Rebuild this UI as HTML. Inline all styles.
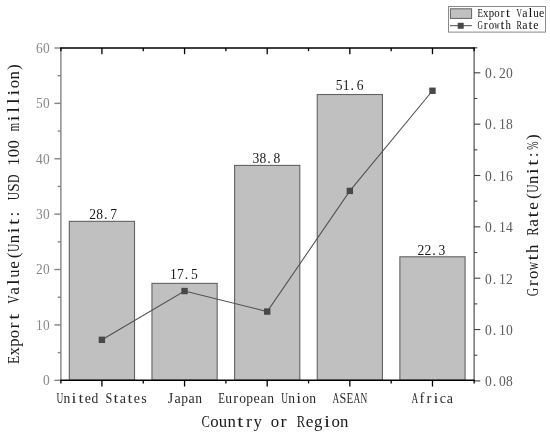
<!DOCTYPE html>
<html lang="en"><head><meta charset="utf-8"><title>Export Value and Growth Rate by Country or Region</title>
<style>html,body{margin:0;padding:0;background:#fff;}body{width:550px;height:435px;overflow:hidden;}svg{display:block;}
text{font-family:"Liberation Serif", "Noto Serif CJK SC", serif;}
.tk{font-size:14px;}.lg{font-size:11px;}.tt{font-size:17.33px;}
</style></head><body>
<svg width="550" height="435" viewBox="0 0 550 435">
<title>Export Value and Growth Rate by Country or Region</title>
<desc>Bar and line chart. Bars: Export Value (Unit: USD 100 million) for United States 28.7, Japan 17.5, European Union 38.8, ASEAN 51.6, Africa 22.3. Line: Growth Rate (Unit:%) by Country or Region.</desc>
<rect x="0" y="0" width="550" height="435" fill="#ffffff"/>
<rect x="69.32" y="221.35" width="65.20" height="158.95" fill="#c0c0c0" stroke="#626262" stroke-width="1.1"/>
<rect x="151.96" y="283.38" width="65.20" height="96.92" fill="#c0c0c0" stroke="#626262" stroke-width="1.1"/>
<rect x="234.60" y="165.41" width="65.20" height="214.89" fill="#c0c0c0" stroke="#626262" stroke-width="1.1"/>
<rect x="317.24" y="94.52" width="65.20" height="285.78" fill="#c0c0c0" stroke="#626262" stroke-width="1.1"/>
<rect x="399.88" y="256.80" width="65.20" height="123.50" fill="#c0c0c0" stroke="#626262" stroke-width="1.1"/>
<polyline points="101.92,339.82 184.56,291.04 267.20,311.58 349.84,190.91 432.48,90.77" fill="none" stroke="#505050" stroke-width="1.05"/>
<rect x="98.72" y="336.62" width="6.4" height="6.4" fill="#484848"/>
<rect x="181.36" y="287.84" width="6.4" height="6.4" fill="#484848"/>
<rect x="264.00" y="308.38" width="6.4" height="6.4" fill="#484848"/>
<rect x="346.64" y="187.71" width="6.4" height="6.4" fill="#484848"/>
<rect x="429.28" y="87.57" width="6.4" height="6.4" fill="#484848"/>
<g stroke="#848484" stroke-width="1.4" fill="none">
<line x1="60.90" y1="47.20" x2="60.90" y2="381.10"/>
<line x1="54.40" y1="380.30" x2="60.90" y2="380.30"/>
<line x1="57.70" y1="352.61" x2="60.90" y2="352.61"/>
<line x1="54.40" y1="324.92" x2="60.90" y2="324.92"/>
<line x1="57.70" y1="297.23" x2="60.90" y2="297.23"/>
<line x1="54.40" y1="269.53" x2="60.90" y2="269.53"/>
<line x1="57.70" y1="241.84" x2="60.90" y2="241.84"/>
<line x1="54.40" y1="214.15" x2="60.90" y2="214.15"/>
<line x1="57.70" y1="186.46" x2="60.90" y2="186.46"/>
<line x1="54.40" y1="158.77" x2="60.90" y2="158.77"/>
<line x1="57.70" y1="131.08" x2="60.90" y2="131.08"/>
<line x1="54.40" y1="103.38" x2="60.90" y2="103.38"/>
<line x1="57.70" y1="75.69" x2="60.90" y2="75.69"/>
<line x1="54.40" y1="48.00" x2="60.90" y2="48.00"/>
</g>
<g stroke="#404040" stroke-width="1.1" fill="none">
<line x1="474.10" y1="47.20" x2="474.10" y2="381.10"/>
<line x1="474.10" y1="380.90" x2="480.30" y2="380.90"/>
<line x1="474.10" y1="355.23" x2="477.30" y2="355.23"/>
<line x1="474.10" y1="329.55" x2="480.30" y2="329.55"/>
<line x1="474.10" y1="303.88" x2="477.30" y2="303.88"/>
<line x1="474.10" y1="278.20" x2="480.30" y2="278.20"/>
<line x1="474.10" y1="252.52" x2="477.30" y2="252.52"/>
<line x1="474.10" y1="226.85" x2="480.30" y2="226.85"/>
<line x1="474.10" y1="201.17" x2="477.30" y2="201.17"/>
<line x1="474.10" y1="175.50" x2="480.30" y2="175.50"/>
<line x1="474.10" y1="149.83" x2="477.30" y2="149.83"/>
<line x1="474.10" y1="124.15" x2="480.30" y2="124.15"/>
<line x1="474.10" y1="98.48" x2="477.30" y2="98.48"/>
<line x1="474.10" y1="72.80" x2="480.30" y2="72.80"/>
<line x1="474.10" y1="47.80" x2="477.30" y2="47.80"/>
</g>
<g stroke="#000000" stroke-width="1.6" fill="none">
<line x1="60.30" y1="48.00" x2="474.70" y2="48.00"/>
<line x1="60.30" y1="380.30" x2="474.70" y2="380.30"/>
<line x1="60.90" y1="48.00" x2="60.90" y2="51.20" stroke-width="1.3"/>
<line x1="60.90" y1="380.30" x2="60.90" y2="383.50" stroke-width="1.3"/>
<line x1="101.92" y1="48.00" x2="101.92" y2="54.20" stroke-width="1.3"/>
<line x1="101.92" y1="380.30" x2="101.92" y2="386.50" stroke-width="1.3"/>
<line x1="143.24" y1="48.00" x2="143.24" y2="51.20" stroke-width="1.3"/>
<line x1="143.24" y1="380.30" x2="143.24" y2="383.50" stroke-width="1.3"/>
<line x1="184.56" y1="48.00" x2="184.56" y2="54.20" stroke-width="1.3"/>
<line x1="184.56" y1="380.30" x2="184.56" y2="386.50" stroke-width="1.3"/>
<line x1="225.88" y1="48.00" x2="225.88" y2="51.20" stroke-width="1.3"/>
<line x1="225.88" y1="380.30" x2="225.88" y2="383.50" stroke-width="1.3"/>
<line x1="267.20" y1="48.00" x2="267.20" y2="54.20" stroke-width="1.3"/>
<line x1="267.20" y1="380.30" x2="267.20" y2="386.50" stroke-width="1.3"/>
<line x1="308.52" y1="48.00" x2="308.52" y2="51.20" stroke-width="1.3"/>
<line x1="308.52" y1="380.30" x2="308.52" y2="383.50" stroke-width="1.3"/>
<line x1="349.84" y1="48.00" x2="349.84" y2="54.20" stroke-width="1.3"/>
<line x1="349.84" y1="380.30" x2="349.84" y2="386.50" stroke-width="1.3"/>
<line x1="391.16" y1="48.00" x2="391.16" y2="51.20" stroke-width="1.3"/>
<line x1="391.16" y1="380.30" x2="391.16" y2="383.50" stroke-width="1.3"/>
<line x1="432.48" y1="48.00" x2="432.48" y2="54.20" stroke-width="1.3"/>
<line x1="432.48" y1="380.30" x2="432.48" y2="386.50" stroke-width="1.3"/>
<line x1="474.10" y1="48.00" x2="474.10" y2="51.20" stroke-width="1.3"/>
<line x1="474.10" y1="380.30" x2="474.10" y2="383.50" stroke-width="1.3"/>
</g>
<text class="tk" y="385.20" fill="#888888" xml:space="preserve"><tspan x="42.90" textLength="6.69" lengthAdjust="spacingAndGlyphs">0</tspan></text>
<text class="tk" y="329.82" fill="#888888" xml:space="preserve"><tspan x="36.00" textLength="6.69" lengthAdjust="spacingAndGlyphs">1</tspan><tspan x="42.90" textLength="6.69" lengthAdjust="spacingAndGlyphs">0</tspan></text>
<text class="tk" y="274.43" fill="#888888" xml:space="preserve"><tspan x="36.00" textLength="6.69" lengthAdjust="spacingAndGlyphs">2</tspan><tspan x="42.90" textLength="6.69" lengthAdjust="spacingAndGlyphs">0</tspan></text>
<text class="tk" y="219.05" fill="#888888" xml:space="preserve"><tspan x="36.00" textLength="6.69" lengthAdjust="spacingAndGlyphs">3</tspan><tspan x="42.90" textLength="6.69" lengthAdjust="spacingAndGlyphs">0</tspan></text>
<text class="tk" y="163.67" fill="#888888" xml:space="preserve"><tspan x="36.00" textLength="6.69" lengthAdjust="spacingAndGlyphs">4</tspan><tspan x="42.90" textLength="6.69" lengthAdjust="spacingAndGlyphs">0</tspan></text>
<text class="tk" y="108.28" fill="#888888" xml:space="preserve"><tspan x="36.00" textLength="6.69" lengthAdjust="spacingAndGlyphs">5</tspan><tspan x="42.90" textLength="6.69" lengthAdjust="spacingAndGlyphs">0</tspan></text>
<text class="tk" y="52.90" fill="#888888" xml:space="preserve"><tspan x="36.00" textLength="6.69" lengthAdjust="spacingAndGlyphs">6</tspan><tspan x="42.90" textLength="6.69" lengthAdjust="spacingAndGlyphs">0</tspan></text>
<text class="tk" y="386.20" fill="#5c5c5c" xml:space="preserve"><tspan x="485.11" textLength="6.79" lengthAdjust="spacingAndGlyphs">0</tspan><tspan x="492.84">.</tspan><tspan x="499.11" textLength="6.79" lengthAdjust="spacingAndGlyphs">0</tspan><tspan x="506.11" textLength="6.79" lengthAdjust="spacingAndGlyphs">8</tspan></text>
<text class="tk" y="334.85" fill="#5c5c5c" xml:space="preserve"><tspan x="485.11" textLength="6.79" lengthAdjust="spacingAndGlyphs">0</tspan><tspan x="492.84">.</tspan><tspan x="499.11" textLength="6.79" lengthAdjust="spacingAndGlyphs">1</tspan><tspan x="506.11" textLength="6.79" lengthAdjust="spacingAndGlyphs">0</tspan></text>
<text class="tk" y="283.50" fill="#5c5c5c" xml:space="preserve"><tspan x="485.11" textLength="6.79" lengthAdjust="spacingAndGlyphs">0</tspan><tspan x="492.84">.</tspan><tspan x="499.11" textLength="6.79" lengthAdjust="spacingAndGlyphs">1</tspan><tspan x="506.11" textLength="6.79" lengthAdjust="spacingAndGlyphs">2</tspan></text>
<text class="tk" y="232.15" fill="#5c5c5c" xml:space="preserve"><tspan x="485.11" textLength="6.79" lengthAdjust="spacingAndGlyphs">0</tspan><tspan x="492.84">.</tspan><tspan x="499.11" textLength="6.79" lengthAdjust="spacingAndGlyphs">1</tspan><tspan x="506.11" textLength="6.79" lengthAdjust="spacingAndGlyphs">4</tspan></text>
<text class="tk" y="180.80" fill="#5c5c5c" xml:space="preserve"><tspan x="485.11" textLength="6.79" lengthAdjust="spacingAndGlyphs">0</tspan><tspan x="492.84">.</tspan><tspan x="499.11" textLength="6.79" lengthAdjust="spacingAndGlyphs">1</tspan><tspan x="506.11" textLength="6.79" lengthAdjust="spacingAndGlyphs">6</tspan></text>
<text class="tk" y="129.45" fill="#5c5c5c" xml:space="preserve"><tspan x="485.11" textLength="6.79" lengthAdjust="spacingAndGlyphs">0</tspan><tspan x="492.84">.</tspan><tspan x="499.11" textLength="6.79" lengthAdjust="spacingAndGlyphs">1</tspan><tspan x="506.11" textLength="6.79" lengthAdjust="spacingAndGlyphs">8</tspan></text>
<text class="tk" y="78.10" fill="#5c5c5c" xml:space="preserve"><tspan x="485.11" textLength="6.79" lengthAdjust="spacingAndGlyphs">0</tspan><tspan x="492.84">.</tspan><tspan x="499.11" textLength="6.79" lengthAdjust="spacingAndGlyphs">2</tspan><tspan x="506.11" textLength="6.79" lengthAdjust="spacingAndGlyphs">0</tspan></text>
<text class="tk" y="402.60" fill="#2a2a2a" xml:space="preserve"><tspan x="56.52" textLength="6.79" lengthAdjust="spacingAndGlyphs">U</tspan><tspan x="63.52" textLength="6.79" lengthAdjust="spacingAndGlyphs">n</tspan><tspan x="71.47" textLength="4.90" lengthAdjust="spacingAndGlyphs">i</tspan><tspan x="78.47" textLength="4.90" lengthAdjust="spacingAndGlyphs">t</tspan><tspan x="84.81">e</tspan><tspan x="91.53" textLength="6.79" lengthAdjust="spacingAndGlyphs">d</tspan><tspan x="100.17"> </tspan><tspan x="105.53" textLength="6.79" lengthAdjust="spacingAndGlyphs">S</tspan><tspan x="113.47" textLength="4.90" lengthAdjust="spacingAndGlyphs">t</tspan><tspan x="119.81">a</tspan><tspan x="127.47" textLength="4.90" lengthAdjust="spacingAndGlyphs">t</tspan><tspan x="133.81 141.20">es</tspan></text>
<text class="tk" y="402.60" fill="#2a2a2a" xml:space="preserve"><tspan x="167.84 174.45">Ja</tspan><tspan x="181.16" textLength="6.79" lengthAdjust="spacingAndGlyphs">p</tspan><tspan x="188.45">a</tspan><tspan x="195.16" textLength="6.79" lengthAdjust="spacingAndGlyphs">n</tspan></text>
<text class="tk" y="402.60" fill="#2a2a2a" xml:space="preserve"><tspan x="218.30" textLength="6.79" lengthAdjust="spacingAndGlyphs">E</tspan><tspan x="225.30" textLength="6.79" lengthAdjust="spacingAndGlyphs">u</tspan><tspan x="233.25" textLength="4.90" lengthAdjust="spacingAndGlyphs">r</tspan><tspan x="239.30" textLength="6.79" lengthAdjust="spacingAndGlyphs">o</tspan><tspan x="246.30" textLength="6.79" lengthAdjust="spacingAndGlyphs">p</tspan><tspan x="253.59 260.59">ea</tspan><tspan x="267.31" textLength="6.79" lengthAdjust="spacingAndGlyphs">n</tspan><tspan x="275.95"> </tspan><tspan x="281.31" textLength="6.79" lengthAdjust="spacingAndGlyphs">U</tspan><tspan x="288.31" textLength="6.79" lengthAdjust="spacingAndGlyphs">n</tspan><tspan x="296.25" textLength="4.90" lengthAdjust="spacingAndGlyphs">i</tspan><tspan x="302.31" textLength="6.79" lengthAdjust="spacingAndGlyphs">o</tspan><tspan x="309.31" textLength="6.79" lengthAdjust="spacingAndGlyphs">n</tspan></text>
<text class="tk" y="402.60" fill="#2a2a2a" xml:space="preserve"><tspan x="332.45" textLength="6.79" lengthAdjust="spacingAndGlyphs">A</tspan><tspan x="339.45" textLength="6.79" lengthAdjust="spacingAndGlyphs">S</tspan><tspan x="346.45" textLength="6.79" lengthAdjust="spacingAndGlyphs">E</tspan><tspan x="353.45" textLength="6.79" lengthAdjust="spacingAndGlyphs">A</tspan><tspan x="360.45" textLength="6.79" lengthAdjust="spacingAndGlyphs">N</tspan></text>
<text class="tk" y="402.60" fill="#2a2a2a" xml:space="preserve"><tspan x="411.59" textLength="6.79" lengthAdjust="spacingAndGlyphs">A</tspan><tspan x="419.53" textLength="4.90" lengthAdjust="spacingAndGlyphs">f</tspan><tspan x="426.53" textLength="4.90" lengthAdjust="spacingAndGlyphs">r</tspan><tspan x="433.53" textLength="4.90" lengthAdjust="spacingAndGlyphs">i</tspan><tspan x="439.87 446.87">ca</tspan></text>
<text class="tk" y="219.10" fill="#1a1a1a" xml:space="preserve"><tspan x="89.33" textLength="6.79" lengthAdjust="spacingAndGlyphs">2</tspan><tspan x="96.33" textLength="6.79" lengthAdjust="spacingAndGlyphs">8</tspan><tspan x="104.06">.</tspan><tspan x="110.33" textLength="6.79" lengthAdjust="spacingAndGlyphs">7</tspan></text>
<text class="tk" y="279.00" fill="#1a1a1a" xml:space="preserve"><tspan x="169.97" textLength="6.79" lengthAdjust="spacingAndGlyphs">1</tspan><tspan x="176.97" textLength="6.79" lengthAdjust="spacingAndGlyphs">7</tspan><tspan x="184.70">.</tspan><tspan x="190.97" textLength="6.79" lengthAdjust="spacingAndGlyphs">5</tspan></text>
<text class="tk" y="162.60" fill="#1a1a1a" xml:space="preserve"><tspan x="252.60" textLength="6.79" lengthAdjust="spacingAndGlyphs">3</tspan><tspan x="259.61" textLength="6.79" lengthAdjust="spacingAndGlyphs">8</tspan><tspan x="267.34">.</tspan><tspan x="273.61" textLength="6.79" lengthAdjust="spacingAndGlyphs">8</tspan></text>
<text class="tk" y="90.00" fill="#1a1a1a" xml:space="preserve"><tspan x="335.75" textLength="6.79" lengthAdjust="spacingAndGlyphs">5</tspan><tspan x="342.75" textLength="6.79" lengthAdjust="spacingAndGlyphs">1</tspan><tspan x="350.48">.</tspan><tspan x="356.75" textLength="6.79" lengthAdjust="spacingAndGlyphs">6</tspan></text>
<text class="tk" y="254.50" fill="#1a1a1a" xml:space="preserve"><tspan x="417.59" textLength="6.79" lengthAdjust="spacingAndGlyphs">2</tspan><tspan x="424.59" textLength="6.79" lengthAdjust="spacingAndGlyphs">2</tspan><tspan x="432.32">.</tspan><tspan x="438.59" textLength="6.79" lengthAdjust="spacingAndGlyphs">3</tspan></text>
<text class="tt" y="427.20" fill="#1a1a1a" xml:space="preserve"><tspan x="201.52" textLength="8.40" lengthAdjust="spacingAndGlyphs">C</tspan><tspan x="210.18" textLength="8.40" lengthAdjust="spacingAndGlyphs">o</tspan><tspan x="218.84" textLength="8.40" lengthAdjust="spacingAndGlyphs">u</tspan><tspan x="227.50" textLength="8.40" lengthAdjust="spacingAndGlyphs">n</tspan><tspan x="237.33" textLength="6.06" lengthAdjust="spacingAndGlyphs">t</tspan><tspan x="245.99" textLength="6.06" lengthAdjust="spacingAndGlyphs">r</tspan><tspan x="253.48" textLength="8.40" lengthAdjust="spacingAndGlyphs">y</tspan><tspan x="264.17"> </tspan><tspan x="270.80" textLength="8.40" lengthAdjust="spacingAndGlyphs">o</tspan><tspan x="280.63" textLength="6.06" lengthAdjust="spacingAndGlyphs">r</tspan><tspan x="290.15"> </tspan><tspan x="296.78" textLength="8.40" lengthAdjust="spacingAndGlyphs">R</tspan><tspan x="305.79">e</tspan><tspan x="314.10" textLength="8.40" lengthAdjust="spacingAndGlyphs">g</tspan><tspan x="323.93" textLength="6.06" lengthAdjust="spacingAndGlyphs">i</tspan><tspan x="331.42" textLength="8.40" lengthAdjust="spacingAndGlyphs">o</tspan><tspan x="340.08" textLength="8.40" lengthAdjust="spacingAndGlyphs">n</tspan></text>
<text class="tt" y="0.00" fill="#1a1a1a" xml:space="preserve" transform="translate(18.90 213.30) rotate(-90)"><tspan x="-150.72" textLength="8.36" lengthAdjust="spacingAndGlyphs">E</tspan><tspan x="-142.10" textLength="8.36" lengthAdjust="spacingAndGlyphs">x</tspan><tspan x="-133.48" textLength="8.36" lengthAdjust="spacingAndGlyphs">p</tspan><tspan x="-124.86" textLength="8.36" lengthAdjust="spacingAndGlyphs">o</tspan><tspan x="-115.08" textLength="6.03" lengthAdjust="spacingAndGlyphs">r</tspan><tspan x="-106.46" textLength="6.03" lengthAdjust="spacingAndGlyphs">t</tspan><tspan x="-96.99"> </tspan><tspan x="-90.38" textLength="8.36" lengthAdjust="spacingAndGlyphs">V</tspan><tspan x="-81.43">a</tspan><tspan x="-71.98" textLength="6.03" lengthAdjust="spacingAndGlyphs">l</tspan><tspan x="-64.52" textLength="8.36" lengthAdjust="spacingAndGlyphs">u</tspan><tspan x="-55.57 -44.99">e(</tspan><tspan x="-38.66" textLength="8.36" lengthAdjust="spacingAndGlyphs">U</tspan><tspan x="-30.04" textLength="8.36" lengthAdjust="spacingAndGlyphs">n</tspan><tspan x="-20.26" textLength="6.03" lengthAdjust="spacingAndGlyphs">i</tspan><tspan x="-11.64" textLength="6.03" lengthAdjust="spacingAndGlyphs">t</tspan><tspan x="-3.28 6.45">: </tspan><tspan x="13.06" textLength="8.36" lengthAdjust="spacingAndGlyphs">U</tspan><tspan x="21.68" textLength="8.36" lengthAdjust="spacingAndGlyphs">S</tspan><tspan x="30.30" textLength="8.36" lengthAdjust="spacingAndGlyphs">D</tspan><tspan x="40.93"> </tspan><tspan x="47.54" textLength="8.36" lengthAdjust="spacingAndGlyphs">1</tspan><tspan x="56.16" textLength="8.36" lengthAdjust="spacingAndGlyphs">0</tspan><tspan x="64.78" textLength="8.36" lengthAdjust="spacingAndGlyphs">0</tspan><tspan x="75.41"> </tspan><tspan x="82.02" textLength="8.36" lengthAdjust="spacingAndGlyphs">m</tspan><tspan x="91.80" textLength="6.03" lengthAdjust="spacingAndGlyphs">i</tspan><tspan x="100.42" textLength="6.03" lengthAdjust="spacingAndGlyphs">l</tspan><tspan x="109.04" textLength="6.03" lengthAdjust="spacingAndGlyphs">l</tspan><tspan x="117.66" textLength="6.03" lengthAdjust="spacingAndGlyphs">i</tspan><tspan x="125.12" textLength="8.36" lengthAdjust="spacingAndGlyphs">o</tspan><tspan x="133.74" textLength="8.36" lengthAdjust="spacingAndGlyphs">n</tspan><tspan x="143.26">)</tspan></text>
<text class="tt" y="0.00" fill="#1a1a1a" xml:space="preserve" transform="translate(537.50 214.40) rotate(-90)"><tspan x="-81.76" textLength="8.36" lengthAdjust="spacingAndGlyphs">G</tspan><tspan x="-71.98" textLength="6.03" lengthAdjust="spacingAndGlyphs">r</tspan><tspan x="-64.52" textLength="8.36" lengthAdjust="spacingAndGlyphs">o</tspan><tspan x="-55.90" textLength="8.36" lengthAdjust="spacingAndGlyphs">w</tspan><tspan x="-46.12" textLength="6.03" lengthAdjust="spacingAndGlyphs">t</tspan><tspan x="-38.66" textLength="8.36" lengthAdjust="spacingAndGlyphs">h</tspan><tspan x="-28.03"> </tspan><tspan x="-21.42" textLength="8.36" lengthAdjust="spacingAndGlyphs">R</tspan><tspan x="-12.47">a</tspan><tspan x="-3.02" textLength="6.03" lengthAdjust="spacingAndGlyphs">t</tspan><tspan x="4.77 15.35">e(</tspan><tspan x="21.68" textLength="8.36" lengthAdjust="spacingAndGlyphs">U</tspan><tspan x="30.30" textLength="8.36" lengthAdjust="spacingAndGlyphs">n</tspan><tspan x="40.08" textLength="6.03" lengthAdjust="spacingAndGlyphs">i</tspan><tspan x="48.70" textLength="6.03" lengthAdjust="spacingAndGlyphs">t</tspan><tspan x="57.06">:</tspan><tspan x="64.78" textLength="8.36" lengthAdjust="spacingAndGlyphs">%</tspan><tspan x="74.30">)</tspan></text>
<rect x="448.5" y="6.5" width="97" height="25.6" fill="#ffffff" stroke="#8a8a8a" stroke-width="1"/>
<rect x="450.4" y="8.8" width="21.2" height="9.6" fill="#c0c0c0" stroke="#626262" stroke-width="1"/>
<line x1="450" y1="25.7" x2="471.8" y2="25.7" stroke="#4a4a4a" stroke-width="1"/>
<rect x="457.7" y="22.8" width="6" height="6" fill="#484848"/>
<text class="lg" y="17.40" fill="#111111" xml:space="preserve" style="font-size:11.8px"><tspan x="477.48" textLength="5.41" lengthAdjust="spacingAndGlyphs">E</tspan><tspan x="483.06" textLength="5.41" lengthAdjust="spacingAndGlyphs">x</tspan><tspan x="488.64" textLength="5.41" lengthAdjust="spacingAndGlyphs">p</tspan><tspan x="494.22" textLength="5.41" lengthAdjust="spacingAndGlyphs">o</tspan><tspan x="500.55">r</tspan><tspan x="506.14" textLength="3.91" lengthAdjust="spacingAndGlyphs">t</tspan><tspan x="512.20"> </tspan><tspan x="516.54" textLength="5.41" lengthAdjust="spacingAndGlyphs">V</tspan><tspan x="522.21">a</tspan><tspan x="528.46" textLength="3.91" lengthAdjust="spacingAndGlyphs">l</tspan><tspan x="533.28" textLength="5.41" lengthAdjust="spacingAndGlyphs">u</tspan><tspan x="538.95">e</tspan></text>
<text class="lg" y="29.20" fill="#111111" xml:space="preserve" style="font-size:11.8px"><tspan x="477.48" textLength="5.41" lengthAdjust="spacingAndGlyphs">G</tspan><tspan x="483.81">r</tspan><tspan x="488.64" textLength="5.41" lengthAdjust="spacingAndGlyphs">o</tspan><tspan x="494.22" textLength="5.41" lengthAdjust="spacingAndGlyphs">w</tspan><tspan x="500.56" textLength="3.91" lengthAdjust="spacingAndGlyphs">t</tspan><tspan x="505.38" textLength="5.41" lengthAdjust="spacingAndGlyphs">h</tspan><tspan x="512.20"> </tspan><tspan x="516.54" textLength="5.41" lengthAdjust="spacingAndGlyphs">R</tspan><tspan x="522.21">a</tspan><tspan x="528.46" textLength="3.91" lengthAdjust="spacingAndGlyphs">t</tspan><tspan x="533.37">e</tspan></text>
</svg>
</body></html>
